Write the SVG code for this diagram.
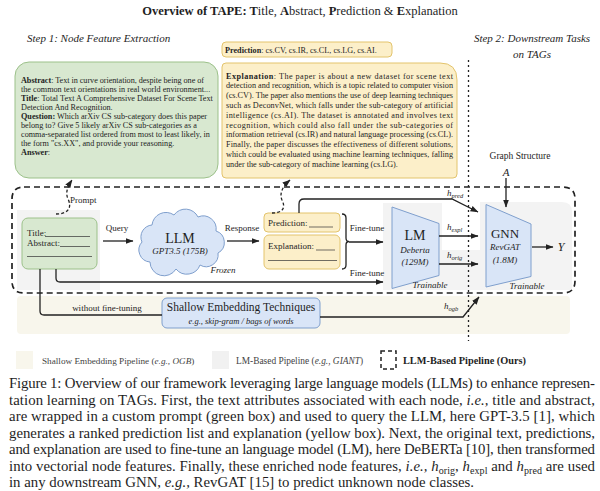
<svg xmlns="http://www.w3.org/2000/svg" width="600" height="491" viewBox="0 0 600 491">
<defs>
<style>
text{font-family:"Liberation Serif","Times New Roman",serif;fill:#1e1e1e}
.b{font-weight:bold}
.i{font-style:italic}
.t8{font-size:8.2px}
.tg{font-size:8.2px}
.t9{font-size:9px}
.green{fill:#d8e8d0;stroke:#9cc18a;stroke-width:1}
.yel{fill:#fcefc9;stroke:#e3c46c;stroke-width:1}
.blue{fill:#d9e5f7;stroke:#7f9fcd;stroke-width:1}
.ln{fill:none;stroke:#222;stroke-width:1.3}
.dot{fill:none;stroke:#222;stroke-width:1.3;stroke-dasharray:3 2.2}
.blank{stroke:#333;stroke-width:0.7}
</style>
<marker id="ah" viewBox="0 0 8 6" refX="7.5" refY="3" markerWidth="8" markerHeight="6" orient="auto" markerUnits="userSpaceOnUse"><path d="M0,0 L8,3 L0,6 z" fill="#222"/></marker>
</defs>
<rect width="600" height="491" fill="#fff"/>

<!-- headings -->
<text x="300" y="15" text-anchor="middle" font-size="12.5"><tspan class="b">Overview of TAPE: T</tspan>itle, <tspan class="b">A</tspan>bstract, <tspan class="b">P</tspan>rediction &amp; <tspan class="b">E</tspan>xplanation</text>
<text x="27" y="42" class="i" font-size="11">Step 1: Node Feature Extraction</text>
<text x="532" y="42" class="i" font-size="11" text-anchor="middle">Step 2: Downstream Tasks</text>
<text x="532" y="58" class="i" font-size="11" text-anchor="middle">on TAGs</text>

<!-- background regions -->
<g id="bg">
<rect x="17" y="296" width="553" height="38" rx="4" fill="#f8f6ec"/>
<rect x="17" y="210" width="83" height="80" fill="#f3f3f3"/>
<rect x="383" y="203" width="59" height="87" fill="#f3f3f3"/>
<rect x="442" y="250" width="38" height="40" fill="#f3f3f3"/>
<path d="M480,202 H562 Q572,202 572,212 V290 H480 Z" fill="#f3f3f3"/>
</g>

<!-- dashed LLM pipeline box and divider -->
<path d="M24,187 H563 Q575,187 575,199 V281 Q575,293 563,293 H24 Q12,293 12,281 V199 Q12,187 24,187 Z" fill="none" stroke="#222" stroke-width="1.7" stroke-dasharray="6 4"/>
<line x1="468.5" y1="60" x2="468.5" y2="341" stroke="#222" stroke-width="1.3" stroke-dasharray="2 3"/>

<!-- prompt box -->
<g id="prompt">
<rect x="15" y="62" width="203" height="116" rx="14" class="green"/>
<text x="21" y="83" class="tg" textLength="183" lengthAdjust="spacing"><tspan class="b">Abstract</tspan>: Text in curve orientation, despite being one of</text>
<text x="21" y="92" class="tg">the common text orientations in real world environment...</text>
<text x="21" y="101" class="tg"><tspan class="b">Title</tspan>: Total Text A Comprehensive Dataset For Scene Text</text>
<text x="21" y="110" class="tg">Detection And Recognition.</text>
<text x="21" y="119" class="tg"><tspan class="b">Question:</tspan> Which arXiv CS sub-category does this paper</text>
<text x="21" y="128" class="tg">belong to? Give 5 likely arXiv CS sub-categories as a</text>
<text x="21" y="137" class="tg">comma-separated list ordered from most to least likely, in</text>
<text x="21" y="146" class="tg">the form "cs.XX", and provide your reasoning.</text>
<text x="21" y="155" class="tg b">Answer<tspan font-weight="normal">:</tspan></text>
</g>

<!-- prediction output -->
<g id="prediction-out">
<rect x="222" y="42" width="170" height="15" rx="4" class="yel"/>
<text x="225" y="52.5" class="t8"><tspan class="b">Prediction</tspan>: cs.CV, cs.IR, cs.CL, cs.LG, cs.AI.</text>
</g>

<!-- explanation output -->
<g id="explanation-out">
<path d="M226,63 H440 Q457,63 457,80 V174 Q457,178 453,178 H226 Q222,178 222,174 V67 Q222,63 226,63 Z" class="yel"/>
<text x="226" y="78.5" class="t8" textLength="227" lengthAdjust="spacing"><tspan class="b">Explanation</tspan>: The paper is about a new dataset for scene text</text>
<text x="226" y="88.3" class="t8" textLength="227" lengthAdjust="spacing">detection and recognition, which is a topic related to computer vision</text>
<text x="226" y="98.1" class="t8" textLength="227" lengthAdjust="spacing">(cs.CV). The paper also mentions the use of deep learning techniques</text>
<text x="226" y="107.9" class="t8" textLength="227" lengthAdjust="spacing">such as DeconvNet, which falls under the sub-category of artificial</text>
<text x="226" y="117.7" class="t8" textLength="227" lengthAdjust="spacing">intelligence (cs.AI). The dataset is annotated and involves text</text>
<text x="226" y="127.5" class="t8" textLength="227" lengthAdjust="spacing">recognition, which could also fall under the sub-categories of</text>
<text x="226" y="137.3" class="t8" textLength="227" lengthAdjust="spacing">information retrieval (cs.IR) and natural language processing (cs.CL).</text>
<text x="226" y="147.1" class="t8" textLength="227" lengthAdjust="spacing">Finally, the paper discusses the effectiveness of different solutions,</text>
<text x="226" y="156.9" class="t8" textLength="227" lengthAdjust="spacing">which could be evaluated using machine learning techniques, falling</text>
<text x="226" y="166.7" class="t8">under the sub-category of machine learning (cs.LG).</text>
</g>

<!-- node text input -->
<g id="text-input">
<rect x="22" y="218" width="75" height="51" rx="6" class="green"/>
<text x="27" y="236" class="t9">Title:</text>
<line x1="45" y1="236.5" x2="90" y2="236.5" class="blank"/>
<text x="27" y="246" class="t9">Abstract:</text>
<line x1="60" y1="246.5" x2="90" y2="246.5" class="blank"/>
<line x1="27" y1="256.5" x2="92" y2="256.5" class="blank"/>
</g>

<!-- LLM -->
<g id="llm">
<path d="M150,262 A12,12 0 0 1 142,242 A12,12 0 0 1 152,225 A14,14 0 0 1 174,215 A14,14 0 0 1 198,217 A13,13 0 0 1 216,231 A12,12 0 0 1 218,253 A12,12 0 0 1 200,265 A14,14 0 0 1 176,269 A14,14 0 0 1 150,262 Z" class="blue"/>
<text x="180" y="243" text-anchor="middle" font-size="14">LLM</text>
<text x="180" y="254" text-anchor="middle" class="i t9">GPT3.5 (175B)</text>
<text x="223" y="273" text-anchor="middle" class="i t9">Frozen</text>
</g>

<!-- response boxes -->
<g id="response">
<rect x="264" y="213" width="76" height="19" rx="4" class="yel"/>
<text x="268" y="226" class="t9">Prediction:</text>
<line x1="309" y1="227" x2="333" y2="227" class="blank"/>
<rect x="264" y="235" width="76" height="34" rx="5" class="yel"/>
<text x="268" y="249" class="t9">Explanation:</text>
<line x1="316" y1="250" x2="335" y2="250" class="blank"/>
<line x1="268" y1="260.5" x2="337" y2="260.5" class="blank"/>
</g>

<!-- LM -->
<g id="lm">
<path d="M392,207 L439,223.5 L439,275.5 L392,288.5 Z" class="blue"/>
<text x="415" y="240" text-anchor="middle" font-size="14">LM</text>
<text x="415" y="253" text-anchor="middle" class="i t9">Deberta</text>
<text x="415" y="265" text-anchor="middle" class="i t9">(129M)</text>
<text x="430" y="288" text-anchor="middle" class="i t9">Trainable</text>
</g>

<!-- GNN -->
<g id="gnn">
<path d="M486,204.5 L531,224 L531,276.5 L486,287 Z" class="blue"/>
<text x="505" y="238" text-anchor="middle" font-size="13">GNN</text>
<text x="505" y="250" text-anchor="middle" class="i t9">RevGAT</text>
<text x="505" y="263" text-anchor="middle" class="i t9">(1.8M)</text>
<text x="527" y="289" text-anchor="middle" class="i t9">Trainable</text>
</g>

<!-- graph structure -->
<g id="graph-structure">
<text x="520" y="159" text-anchor="middle" font-size="9.5">Graph Structure</text>
<text x="506" y="175.5" text-anchor="middle" class="i" font-size="11">A</text>
</g>

<!-- output -->
<g id="output">
<text x="561" y="251" text-anchor="middle" class="i" font-size="12">Y</text>
</g>

<!-- shallow embedding -->
<g id="shallow">
<rect x="162" y="298" width="158" height="30" rx="5" class="blue"/>
<text x="241" y="311" text-anchor="middle" font-size="11.5">Shallow Embedding Techniques</text>
<text x="241" y="324" text-anchor="middle" class="i" font-size="8.5">e.g., skip-gram / bags of words</text>
</g>

<!-- connectors -->
<g id="connectors">
<path d="M56,214 C69,214 72,207 68,199 C65,192 68,186 72,180" class="dot" marker-end="url(#ah)"/>
<text x="70" y="203" class="t9">Prompt</text>
<path d="M272,213 C285,213 285,206 282,200 C279,193 283,186 290,180" class="dot" marker-end="url(#ah)"/>

<path d="M103,241 H133" class="ln" marker-end="url(#ah)"/>
<text x="117" y="231" text-anchor="middle" class="t9">Query</text>
<path d="M227,241 H259" class="ln" marker-end="url(#ah)"/>
<text x="242" y="231" text-anchor="middle" class="t9">Response</text>

<path d="M342,214 Q346,214 346,218 V238 Q346,241.5 349,241.5 Q346,241.5 346,245 V265 Q346,269 342,269" class="ln" stroke-width="1.1"/>
<path d="M349,242 H383" class="ln" marker-end="url(#ah)"/>
<text x="367" y="231" text-anchor="middle" class="t9">Fine-tune</text>

<path d="M56,269 V278 Q56,282 60,282 H383" class="ln" marker-end="url(#ah)"/>
<text x="367" y="276" text-anchor="middle" class="t9">Fine-tune</text>

<path d="M40,269 V311 Q40,315 44,315 H162" class="ln"/>
<text x="107" y="311" text-anchor="middle" class="t9">without fine-tuning</text>

<path d="M299,213 V204 Q299,199 304,199 H452 L478,212" class="ln" marker-end="url(#ah)"/>
<text x="447" y="196" class="i t9">h<tspan font-size="6.5" dy="2">pred</tspan></text>
<path d="M439,236 H478" class="ln" marker-end="url(#ah)"/>
<text x="447" y="230" class="i t9">h<tspan font-size="6.5" dy="2">expl</tspan></text>
<path d="M439,264 H478" class="ln" marker-end="url(#ah)"/>
<text x="447" y="258" class="i t9">h<tspan font-size="6.5" dy="2">orig</tspan></text>
<path d="M320,317 H463 L479,297" class="ln" marker-end="url(#ah)"/>
<text x="444" y="309" class="i t9">h<tspan font-size="6.5" dy="2">ogb</tspan></text>

<path d="M506,178 V207" class="ln" marker-end="url(#ah)"/>
<path d="M532,247 H553" class="ln" marker-end="url(#ah)"/>
</g>

<!-- legend -->
<g id="legend">
<rect x="16" y="351" width="17" height="18" fill="#f8f6ec"/>
<text x="42" y="364" font-size="9.2" style="fill:#444">Shallow Embedding Pipeline (<tspan class="i">e.g., OGB</tspan>)</text>
<rect x="212" y="351" width="17" height="18" fill="#f1f1f1"/>
<text x="236" y="364" font-size="9.4" style="fill:#444">LM-Based Pipeline (<tspan class="i">e.g., GIANT</tspan>)</text>
<rect x="381" y="351" width="15" height="18" fill="none" stroke="#222" stroke-width="1.5" stroke-dasharray="4 3"/>
<text x="403" y="364" font-size="10.3" class="b">LLM-Based Pipeline (Ours)</text>
</g>

<!-- caption -->
<g id="caption" font-size="14.8">
<text x="9" y="388" textLength="586" lengthAdjust="spacing">Figure 1: Overview of our framework leveraging large language models (LLMs) to enhance represen-</text>
<text x="9" y="404.5" textLength="586" lengthAdjust="spacing">tation learning on TAGs. First, the text attributes associated with each node, <tspan class="i">i.e.,</tspan> title and abstract,</text>
<text x="9" y="421" textLength="586" lengthAdjust="spacing">are wrapped in a custom prompt (green box) and used to query the LLM, here GPT-3.5 [1], which</text>
<text x="9" y="437.5" textLength="586" lengthAdjust="spacing">generates a ranked prediction list and explanation (yellow box). Next, the original text, predictions,</text>
<text x="9" y="454" textLength="586" lengthAdjust="spacing">and explanation are used to fine-tune an language model (LM), here DeBERTa [10], then transformed</text>
<text x="9" y="470.5" textLength="586" lengthAdjust="spacing">into vectorial node features. Finally, these enriched node features, <tspan class="i">i.e.,</tspan> <tspan class="i">h</tspan><tspan font-size="10" dy="3">orig</tspan><tspan dy="-3">, </tspan><tspan class="i">h</tspan><tspan font-size="10" dy="3">expl</tspan><tspan dy="-3"> and </tspan><tspan class="i">h</tspan><tspan font-size="10" dy="3">pred</tspan><tspan dy="-3"> are used</tspan></text>
<text x="9" y="487">in any downstream GNN, <tspan class="i">e.g.,</tspan> RevGAT [15] to predict unknown node classes.</text>
</g>
</svg>
